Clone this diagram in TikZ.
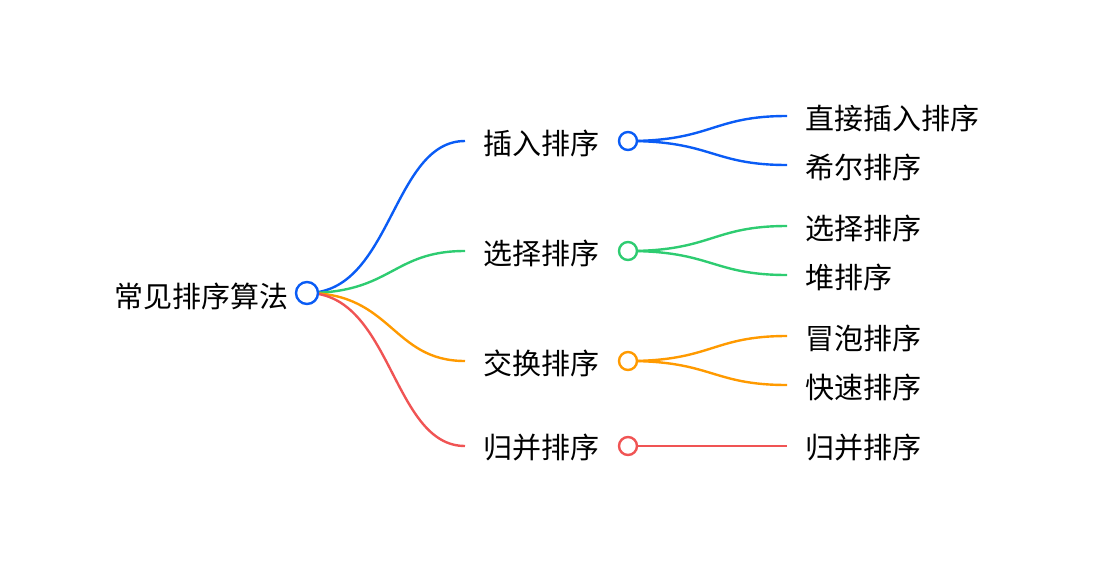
\documentclass[tikz,border=0pt]{standalone}
\usepackage{fontspec}
\setmainfont{Noto Sans CJK SC}
\definecolor{cb}{HTML}{0A5CF5}
\definecolor{cg}{HTML}{2ECC71}
\definecolor{co}{HTML}{FF9A00}
\definecolor{cr}{HTML}{F05454}
\begin{document}
\begin{tikzpicture}[x=1pt,y=-1pt,
  lbl/.style={inner sep=0pt,font=\fontsize{29}{34}\selectfont},
  dot/.style={circle,draw=#1,fill=white,line width=2.4pt,inner sep=0pt},
  ln/.style={draw=#1,line width=2.4pt}]
\useasboundingbox (0,0) rectangle (1094,562);
% level 1 curves
\coordinate (e1) at (465,141);
\coordinate (e2) at (465,251);
\coordinate (e3) at (465,361);
\coordinate (e4) at (465,446);
\coordinate (rs) at (307,293);
\draw[ln=cb] (rs) .. controls (392,293) and (392,141) .. (e1);
\draw[ln=cg] (rs) .. controls (392,293) and (392,251) .. (e2);
\draw[ln=co] (rs) .. controls (392,293) and (392,361) .. (e3);
\draw[ln=cr] (rs) .. controls (392,293) and (392,446) .. (e4);
\node[dot=cb,minimum size=22pt] (root) at (307,293) {};
\node[lbl,anchor=east] (rt) at (289,296) {常见排序算法};
% level 1 nodes
\node[lbl,anchor=west] (t1) at (483,143) {插入排序};
\node[lbl,anchor=west] (t2) at (483,253) {选择排序};
\node[lbl,anchor=west] (t3) at (483,363) {交换排序};
\node[lbl,anchor=west] (t4) at (483,448) {归并排序};
% child endpoints
\coordinate (c11) at (787,116);
\coordinate (c12) at (787,165);
\coordinate (c21) at (787,226);
\coordinate (c22) at (787,275);
\coordinate (c31) at (787,336);
\coordinate (c32) at (787,385);
\coordinate (c41) at (787,446);
\draw[ln=cb] (628,141) .. controls (712,141) and (712,116) .. (c11);
\draw[ln=cb] (628,141) .. controls (712,141) and (712,165) .. (c12);
\draw[ln=cg] (628,251) .. controls (712,251) and (712,226) .. (c21);
\draw[ln=cg] (628,251) .. controls (712,251) and (712,275) .. (c22);
\draw[ln=co] (628,361) .. controls (712,361) and (712,336) .. (c31);
\draw[ln=co] (628,361) .. controls (712,361) and (712,385) .. (c32);
\draw[ln=cr] (628,446) -- (c41);
\node[dot=cb,minimum size=18pt] (d1) at (628,141) {};
\node[dot=cg,minimum size=18pt] (d2) at (628,251) {};
\node[dot=co,minimum size=18pt] (d3) at (628,361) {};
\node[dot=cr,minimum size=18pt] (d4) at (628,446) {};
% leaves
\node[lbl,anchor=west] (l11) at (805,118) {直接插入排序};
\node[lbl,anchor=west] (l12) at (805,167) {希尔排序};
\node[lbl,anchor=west] (l21) at (805,228) {选择排序};
\node[lbl,anchor=west] (l22) at (805,277) {堆排序};
\node[lbl,anchor=west] (l31) at (805,338) {冒泡排序};
\node[lbl,anchor=west] (l32) at (805,387) {快速排序};
\node[lbl,anchor=west] (l41) at (805,448) {归并排序};
\end{tikzpicture}
\end{document}
